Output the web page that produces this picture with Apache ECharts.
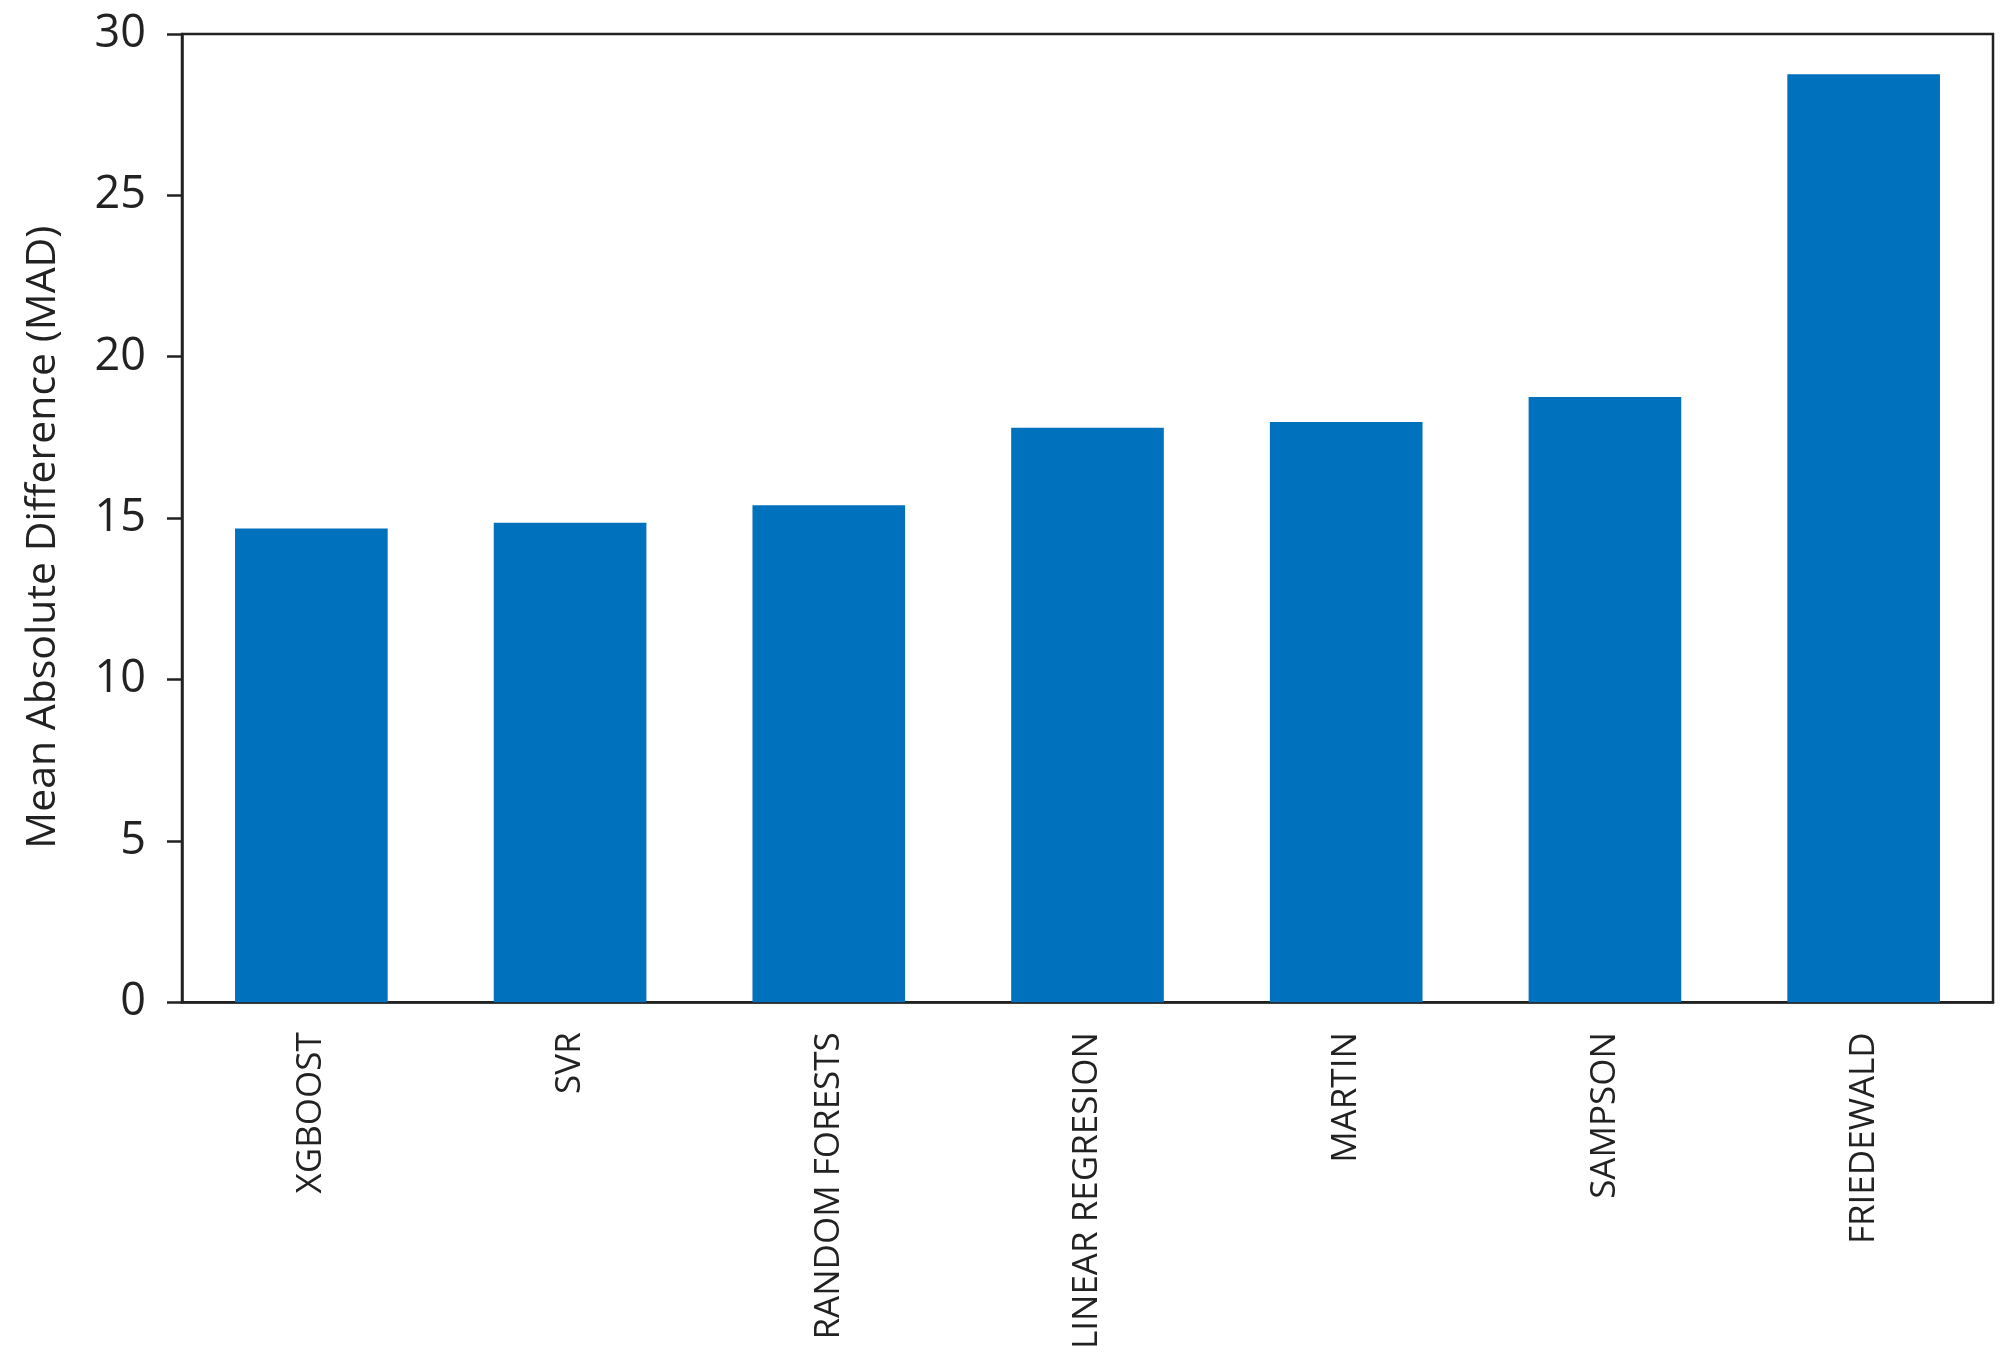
<!DOCTYPE html>
<html>
<head>
<meta charset="utf-8">
<script src="https://cdn.jsdelivr.net/npm/echarts@6/dist/echarts.min.js"></script>
<style>
  html, body { margin: 0; padding: 0; background: #fff; }
  #chart { width: 2012px; height: 1352px; }
</style>
</head>
<body>
<div id="chart"></div>
<script>
const methods = ["XGBOOST", "SVR", "RANDOM FORESTS", "LINEAR REGRESION", "MARTIN", "SAMPSON", "FRIEDEWALD"];
const madValues = [14.68, 14.86, 15.4, 17.8, 17.98, 18.75, 28.75];
const yTicks = { min: 0, max: 30, interval: 5 };
const yTitle = "Mean Absolute Difference (MAD)";

const chart = echarts.init(document.getElementById("chart"));
const axisColor = "#222";
const font = "'Open Sans', 'DejaVu Sans', sans-serif";

chart.setOption({
  backgroundColor: "#fff",
  animation: false,
  grid: {
    left: 182,
    right: 19,
    top: 34,
    bottom: 348,
    show: true,
    borderColor: axisColor,
    borderWidth: 2.5,
  },
  xAxis: {
    type: "category",
    data: methods,
    axisLine: { lineStyle: { color: axisColor, width: 2.5 } },
    axisTick: { alignWithLabel: true, length: 14, lineStyle: { color: axisColor, width: 2.5 } },
    axisLabel: {
      rotate: 90,
      margin: 30,
      fontSize: 35,
      color: axisColor,
      fontFamily: font,
    },
  },
  yAxis: {
    type: "value",
    min: yTicks.min,
    max: yTicks.max,
    interval: yTicks.interval,
    splitLine: { show: false },
    axisLine: { show: true, lineStyle: { color: axisColor, width: 2.5 } },
    axisTick: { show: true, length: 15, lineStyle: { color: axisColor, width: 2.5 } },
    axisLabel: {
      margin: 36,
      fontSize: 45,
      color: axisColor,
      fontFamily: font,
    },
    name: yTitle,
    nameLocation: "middle",
    nameGap: 118,
    nameTextStyle: {
      fontSize: 41,
      color: axisColor,
      fontFamily: font,
      padding: [0, 38, 0, 0],
    },
  },
  series: [
    {
      type: "bar",
      data: madValues,
      barWidth: "59%",
      itemStyle: { color: "#0071bd" },
    },
  ],
});
</script>
</body>
</html>
